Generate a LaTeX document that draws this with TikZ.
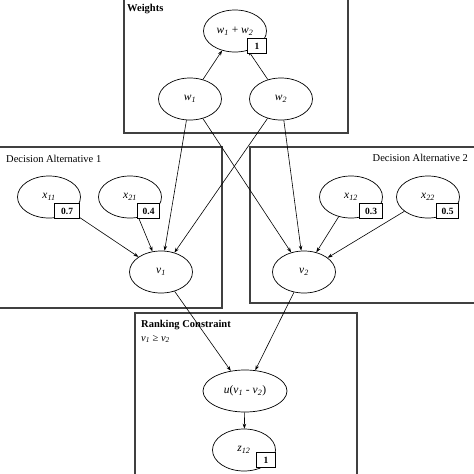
\documentclass[tikz,border=0pt]{standalone}
\usepackage{fontspec}
\setmainfont{Liberation Serif}
\usetikzlibrary{shapes.geometric,arrows.meta}
\newcommand{\mvar}[2]{\textit{#1}\textsubscript{\textit{#2}}}
\begin{document}
\begin{tikzpicture}[x=1pt,y=-1pt,
  frame/.style={draw=black!75,line width=1.1pt},
  rv/.style={draw,ellipse,minimum width=63pt,minimum height=42pt,inner sep=0pt,font=\fontsize{11.5}{13}\selectfont,line width=0.7pt},
  valbox/.style={draw,fill=white,inner sep=0pt,minimum height=15pt,font=\bfseries\fontsize{9.5}{10}\selectfont,line width=0.8pt},
  edge/.style={-{Stealth[length=5pt,width=3.5pt]},line width=0.6pt},
  lbl/.style={font=\fontsize{10.5}{12}\selectfont,inner sep=0pt}]
\useasboundingbox (0,0) rectangle (474,474);
% plates
\draw[frame] (124,-2) rectangle (348,133);
\draw[frame] (-2,147) rectangle (222,308);
\draw[frame] (250,147) rectangle (476,303);
\draw[frame] (135,313) rectangle (357,476);
\node[lbl,font=\bfseries\fontsize{10.5}{12}\selectfont,anchor=base west] (tw) at (127,11) {Weights};
\node[lbl,anchor=base west] (td1) at (6,162) {Decision Alternative 1};
\node[lbl,anchor=base east] (td2) at (468,161) {Decision Alternative 2};
\node[lbl,font=\bfseries\fontsize{10.5}{12}\selectfont,anchor=base west] (trc) at (141,327) {Ranking Constraint};
\node[lbl,anchor=base west] (trc2) at (141,341) {\mvar{v}{1} ≥ \mvar{v}{2}};
% nodes
\node[rv] (ws) at (235,31) {\mvar{w}{1} + \mvar{w}{2}};
\node[rv] (w1) at (190,99) {\mvar{w}{1}};
\node[rv] (w2) at (281,99) {\mvar{w}{2}};
\node[rv] (x11) at (49,197) {\mvar{x}{11}};
\node[rv] (x21) at (130,197) {\mvar{x}{21}};
\node[rv] (v1) at (161,272) {\mvar{v}{1}};
\node[rv] (x12) at (351,197) {\mvar{x}{12}};
\node[rv] (x22) at (428,197) {\mvar{x}{22}};
\node[rv] (v2) at (304,272) {\mvar{v}{2}};
\node[rv,minimum width=84pt] (u) at (245,391) {\textit{u}(\mvar{v}{1} - \mvar{v}{2})};
\node[rv] (z) at (244,450) {\mvar{z}{12}};
% edges
\draw[edge] (w1) -- (ws);
\draw[edge] (w2) -- (ws);
\draw[edge] (w1) -- (v1);
\draw[edge] (w1) -- (v2);
\draw[edge] (w2) -- (v1);
\draw[edge] (w2) -- (v2);
\draw[edge] (x11) -- (v1);
\draw[edge] (x21) -- (v1);
\draw[edge] (x12) -- (v2);
\draw[edge] (x22) -- (v2);
\draw[edge] (v1) -- (u);
\draw[edge] (v2) -- (u);
\draw[edge] (u) -- (z);
% value boxes
\node[valbox,minimum width=19pt,anchor=south east] (bws) at (267,54) {1};
\node[valbox,minimum width=25pt,anchor=south east] (b11) at (80,219) {0.7};
\node[valbox,minimum width=22pt,anchor=south east] (b21) at (160,219) {0.4};
\node[valbox,minimum width=23pt,anchor=south east] (b12) at (383,219) {0.3};
\node[valbox,minimum width=22pt,anchor=south east] (b22) at (459,219) {0.5};
\node[valbox,minimum width=19pt,anchor=south east] (bz) at (276,468) {1};
\end{tikzpicture}
\end{document}
